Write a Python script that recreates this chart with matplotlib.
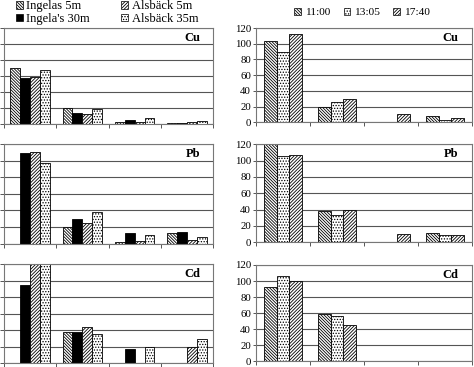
import numpy as np
import matplotlib
matplotlib.use("Agg")
from matplotlib import pyplot as plt
from matplotlib.patches import Patch

plt.rcParams["font.family"] = ["Liberation Serif", "DejaVu Serif"]
plt.rcParams["hatch.linewidth"] = 0.6

metals = ["Cu", "Pb", "Cd"]

# left column: sites / depths (4 groups each)
site_labels = ["Ingelas 5m", "Ingela's 30m", "Alsbäck 5m", "Alsbäck 35m"]
site_cu = [[70, 20, 3, 1.5], [58, 14, 5, 2], [59, 12.5, 3, 2.5], [68, 19, 8, 4]]
site_pb = [[0, 20, 1.5, 12.5], [109, 29, 12.5, 13.5], [110, 25, 3, 4], [97, 38, 10, 8]]
site_cd = [[0, 37, 0, 0], [95, 37, 17.5, 0], [121, 43.5, 0, 19.5], [121, 35, 19.5, 29]]

# right column: sampling times (4 groups each)
time_labels = ["11:00", "13:05", "17:40"]
time_cu = [[104, 20, 0, 8], [90, 26, 0, 3.5], [112, 30, 10, 5]]
time_pb = [[121, 38, 0, 11], [106, 33, 0, 8.5], [107, 39.5, 10, 9.5]]
time_cd = [[92, 59, 0, 0], [106, 56, 0, 0], [100, 45.5, 0, 0]]

site_data = [site_cu, site_pb, site_cd]
time_data = [time_cu, time_pb, time_cd]

back = "\\" * 11
fwd = "/" * 10
dots = "." * 6
site_style = [dict(facecolor="white", hatch=back),
              dict(facecolor="black", hatch=None),
              dict(facecolor="white", hatch=fwd),
              dict(facecolor="white", hatch=dots)]
time_style = [dict(facecolor="white", hatch=back),
              dict(facecolor="white", hatch=dots),
              dict(facecolor="white", hatch=fwd)]

W, H = 474, 367
fig = plt.figure(figsize=(W / 100, H / 100), dpi=100)

left_rows = [(28, 124.3), (144, 243.5), (264, 363)]
right_rows = [(28, 122.3), (144.3, 242.3), (265, 361.3)]


def make_ax(x0, x1, y0, y1):
    return fig.add_axes([x0 / W, 1 - y1 / H, (x1 - x0) / W, (y1 - y0) / H])


def style_ax(ax, labels):
    ax.set_ylim(0, 120)
    ax.set_xlim(-0.5, 3.5)
    ax.set_yticks(np.arange(0, 121, 20))
    ax.set_xticks([-0.5, 0.5, 1.5, 2.5, 3.5])
    ax.set_xticklabels([])
    ax.grid(axis="y", color="#555555", lw=0.8)
    ax.set_axisbelow(True)
    for s in ax.spines.values():
        s.set_color("#777777")
        s.set_linewidth(0.8)
    ax.tick_params(axis="x", direction="out", length=3, width=0.7, color="#555555")
    ax.tick_params(axis="y", direction="inout", length=5, width=0.7, color="#555555",
                   labelsize=7.8, pad=1)
    if not labels:
        ax.set_yticklabels([])
        ax.tick_params(axis="y", direction="out", length=3)


x = np.arange(4)
for i, metal in enumerate(metals):
    # left panel
    ax = make_ax(4, 213, *left_rows[i])
    style_ax(ax, False)
    w = 0.19
    for k, vals in enumerate(site_data[i]):
        ax.bar(x + (k - 1.5) * w, vals, w, edgecolor="black", lw=0.6, **site_style[k])
    ax.text(0.94, 0.96, metal, transform=ax.transAxes, ha="right", va="top",
            fontsize=9, fontweight="bold")

    # right panel
    ax = make_ax(256, 472, *right_rows[i])
    style_ax(ax, True)
    w = 0.23
    for k, vals in enumerate(time_data[i]):
        ax.bar(x + (k - 1) * w, vals, w, edgecolor="black", lw=0.6, **time_style[k])
    ax.text(0.935, 0.96, metal, transform=ax.transAxes, ha="right", va="top",
            fontsize=9, fontweight="bold")

site_handles = [Patch(edgecolor="black", lw=0.5, label=l, **s) for l, s in zip(site_labels, site_style)]
fig.legend(site_handles, site_labels,
           ncol=2, loc="center", bbox_to_anchor=(107 / W, 1 - 12.5 / H), frameon=False,
           fontsize=9, handlelength=0.55, handleheight=0.55, handletextpad=0.3,
           columnspacing=2.5, labelspacing=0.05, borderpad=0)

time_handles = [Patch(edgecolor="black", lw=0.5, label=l, **s) for l, s in zip(time_labels, time_style)]
fig.legend(time_handles, time_labels, ncol=3, loc="center",
           bbox_to_anchor=(362 / W, 1 - 12.5 / H), frameon=False,
           fontsize=8.2, handlelength=0.6, handleheight=0.6, handletextpad=0.3,
           columnspacing=1.2, borderpad=0)

fig.savefig("out.png", dpi=100)
